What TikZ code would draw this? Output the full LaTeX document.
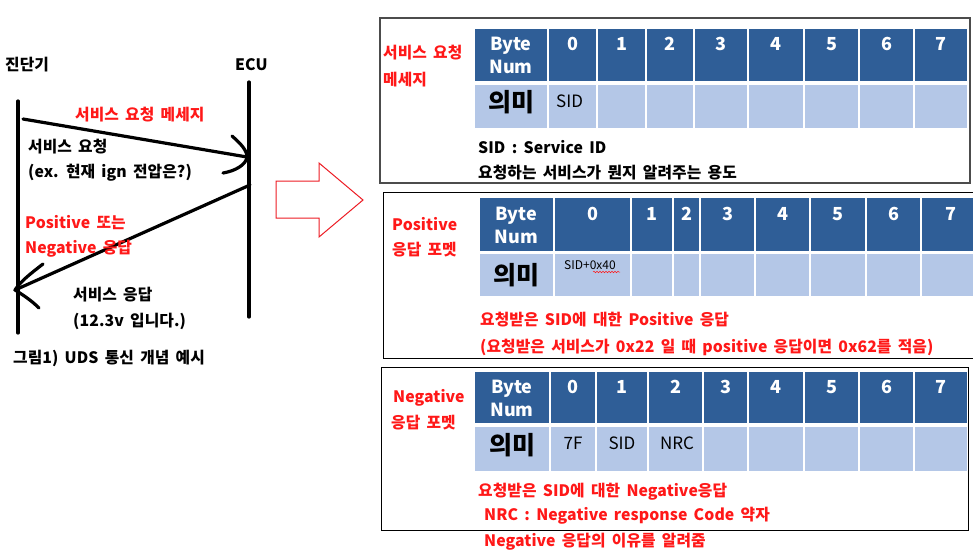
\documentclass[tikz,border=0pt]{standalone}
\usepackage{fontspec}
\setmainfont{Noto Sans CJK KR}
\newfontfamily\krs[LetterSpace=0.5,WordSpace=1.7]{Noto Sans CJK KR}
\usetikzlibrary{decorations.pathmorphing}
\definecolor{hdr}{RGB}{47,94,151}
\definecolor{rowc}{RGB}{180,199,231}
\definecolor{redt}{RGB}{255,24,24}
\definecolor{arrred}{RGB}{237,28,36}
\tikzset{
  lbl/.style={font=\krs\bfseries\fontsize{15.8}{18}\selectfont, inner sep=0pt, anchor=west},
  rlbl/.style={lbl, text=redt},
  hdrtxt/.style={font=\bfseries\fontsize{18}{23}\selectfont, text=white, inner sep=0pt, align=center},
  meaning/.style={font=\bfseries\fontsize{25}{27}\selectfont, inner sep=0pt},
  celltxt/.style={font=\fontsize{17}{19}\selectfont, inner sep=0pt},
  hand/.style={line width=3.2pt, line cap=round, line join=round},
  frame/.style={draw=black, line width=1pt},
}
\begin{document}
\begin{tikzpicture}[x=1pt,y=-1pt]
\useasboundingbox (0,0) rectangle (973,554);
\fill[white] (0,0) rectangle (973,554);

% ---------------- left sequence diagram ----------------
\node[lbl] (diag) at (5,65) {진단기};
\node[lbl] (ecu) at (235,65) {ECU};
\coordinate (dtop) at (18,101);
\coordinate (dbot) at (18,333);
\coordinate (etop) at (249,82);
\coordinate (ebot) at (249,317);
\draw[hand] (dtop) -- (dbot);
\draw[hand] (etop) -- (ebot);

\coordinate (a1s) at (23,119);
\coordinate (a1e) at (247,157);
\coordinate (a1u) at (232,136);
\coordinate (a1l) at (223,173);
\draw[hand] (a1s) -- (a1e);
\draw[hand] (a1u) .. controls (240,143) and (247,150) .. (a1e) .. controls (246,165) and (235,171) .. (a1l);

\coordinate (a2s) at (250,185);
\coordinate (a2e) at (15,290);
\coordinate (a2u) at (43,264);
\coordinate (a2l) at (39,308);
\draw[hand] (a2s) -- (a2e);
\draw[hand] (a2u) .. controls (30,274) and (20,282) .. (a2e) .. controls (25,296) and (33,302) .. (a2l);

\node[rlbl] (reqmsg) at (75,115) {서비스 요청 메세지};
\node[lbl] (req1) at (28,147) {서비스 요청};
\node[lbl] (req2) at (28,173) {(ex. 현재 ign 전압은?)};
\node[rlbl] (pn1) at (25,223) {Positive 또는};
\node[rlbl] (pn2) at (25,249) {Negative 응답};
\node[lbl] (resp1) at (73,295) {서비스 응답};
\node[lbl] (resp2) at (73,321) {(12.3v 입니다.)};
\node[lbl] (cap) at (13,358) {그림1) UDS 통신 개념 예시};

% ---------------- big outline arrow ----------------
\draw[arrred, line width=1pt, line join=miter]
  (276,181) -- (319,181) -- (319,163) -- (363,200) -- (319,237) -- (319,218) -- (276,218) -- cycle;

% ---------------- box 1 ----------------
\draw[draw=gray!60!black, line width=1.4pt] (380,18) rectangle (970,183);
\node[rlbl] (b1l1) at (383,53) {서비스 요청};
\node[rlbl] (b1l2) at (383,80) {메세지};
\foreach \a/\b/\t [count=\i] in {474/548/{Byte\\Num},548/597/0,597/646/1,646/694/2,694/748/3,748/804/4,804/859/5,859/914/6,914/968/7}{
  \fill[hdr] (\a+1,29) rectangle (\b-1,81);
  \fill[rowc] (\a+1,85) rectangle (\b-1,128);
  \node[hdrtxt, anchor=north] (t1h\i) at ({(\a+\b)/2},37) {\t};
}
\node[meaning] (t1m) at (511,102) {의미};
\node[celltxt, anchor=west] (t1c0) at (556,101) {SID};
\node[lbl] (b1t1) at (478,147) {SID : Service ID};
\node[lbl] (b1t2) at (478,173) {요청하는 서비스가 뭔지 알려주는 용도};

% ---------------- box 2 ----------------
\draw[frame] (383,192) rectangle (990,358);
\node[rlbl] (b2l1) at (392,224) {Positive};
\node[rlbl] (b2l2) at (392,250) {응답 포멧};
\foreach \a/\b/\t [count=\i] in {479/554/{Byte\\Num},554/631/0,631/673/1,673/700/2,700/755/3,755/810/4,810/866/5,866/921/6,921/980/7}{
  \fill[hdr] (\a+1,198) rectangle (\b-1,251);
  \fill[rowc] (\a+1,254) rectangle (\b-1,296);
  \node[hdrtxt, anchor=north] (t2h\i) at ({(\a+\b)/2},207) {\t};
}
\node[meaning] (t2m) at (516,275) {의미};
\node[font=\fontsize{12}{14}\selectfont, inner sep=0pt, anchor=west] (t2c0) at (564,265) {SID+0x40};
\draw[redt, line width=0.5pt, decorate, decoration={snake, amplitude=0.8pt, segment length=3pt}] (593,272) -- (620,272);
\node[rlbl] (b2t1) at (480,320) {요청받은 SID에 대한 Positive 응답};
\node[rlbl] (b2t2) at (480,347) {(요청받은 서비스가 0x22 일 때 positive 응답이면 0x62를 적음)};

% ---------------- box 3 ----------------
\draw[frame] (381,367) rectangle (968,530);
\node[rlbl] (b3l1) at (393,398) {Negative};
\node[rlbl] (b3l2) at (391,423) {응답 포멧};
\foreach \a/\b/\t [count=\i] in {474/550/{Byte\\Num},550/596/0,596/648/1,648/703/2,703/748/3,748/804/4,804/859/5,859/914/6,914/968/7}{
  \fill[hdr] (\a+1,372) rectangle (\b-1,423);
  \fill[rowc] (\a+1,427) rectangle (\b-1,471);
  \node[hdrtxt, anchor=north] (t3h\i) at ({(\a+\b)/2},380) {\t};
}
\node[meaning] (t3m) at (512,445) {의미};
\node[celltxt] (t3c0) at (573,443) {7F};
\node[celltxt] (t3c1) at (622,443) {SID};
\node[celltxt] (t3c2) at (677,443) {NRC};
\node[rlbl] (b3t1) at (478,492) {요청받은 SID에 대한 Negative응답};
\node[rlbl] (b3t2) at (484,516) {NRC : Negative response Code 약자};
\node[rlbl] (b3t3) at (484,542) {Negative 응답의 이유를 알려줌};
\end{tikzpicture}
\end{document}
